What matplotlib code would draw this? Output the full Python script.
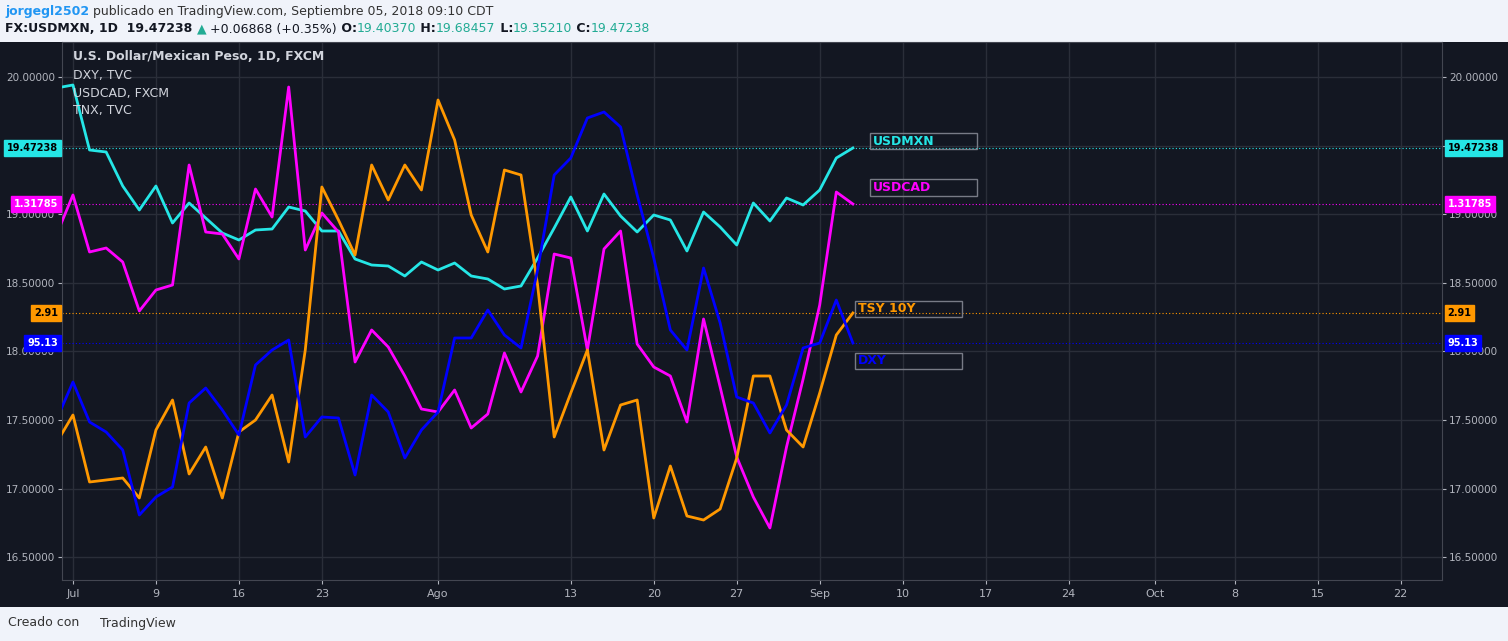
import matplotlib
matplotlib.use("Agg")
import matplotlib.pyplot as plt
from matplotlib.patches import Rectangle

W, H = 1508, 641
# trading-day index: 0 = Jul 2, 2018 ; -1 = Jun 29
idx = list(range(-1, 48))
tick_pos = [0, 5, 10, 15, 22, 30, 35, 40, 45, 50, 55, 60, 65.2, 70, 75, 80]
tick_lab = ["Jul", "9", "16", "23", "Ago", "13", "20", "27", "Sep", "10", "17", "24", "Oct", "8", "15", "22"]

def px2v(ys):
    return [round(20 - (y - 77) / 137.2, 4) for y in ys]

# values expressed on the USDMXN price scale
usdmxn = px2v([88, 85, 150, 152, 186, 210, 186, 223, 203, 218, 233, 240, 230, 229, 207, 211, 231, 231, 259, 265, 266, 276, 262, 270, 263, 276, 279, 289, 286, 258, 228, 197, 231, 194, 216, 232, 215, 220, 251, 212, 227, 245, 203, 221, 198, 205, 190, 158, 148])
usdcad = px2v([235, 195, 252, 248, 262, 311, 290, 285, 165, 232, 234, 259, 189, 217, 87, 250, 213, 232, 362, 330, 347, 376, 409, 412, 390, 428, 414, 353, 392, 356, 254, 258, 350, 249, 231, 344, 367, 376, 422, 319, 387, 457, 497, 528, 447, 379, 305, 192, 204])
tsy10y = px2v([443, 415, 482, 480, 478, 498, 430, 400, 474, 447, 498, 432, 420, 395, 462, 350, 187, 220, 255, 165, 200, 165, 190, 100, 140, 215, 252, 170, 175, 285, 437, 393, 350, 450, 405, 400, 518, 466, 516, 520, 509, 458, 376, 376, 430, 447, 393, 335, 313])
dxy = px2v([420, 382, 422, 432, 450, 515, 497, 487, 403, 388, 410, 435, 365, 350, 340, 437, 417, 418, 475, 395, 412, 458, 430, 412, 338, 338, 310, 335, 348, 270, 175, 158, 118, 112, 127, 195, 258, 330, 350, 268, 323, 397, 403, 433, 405, 348, 343, 300, 343])

yticks = [16.5, 17.0, 17.5, 18.0, 18.5, 19.0, 19.5, 20.0]
BG = "#131722"; GRID = "#2a2e39"; TXT = "#b2b5be"
series = [("USDMXN", usdmxn, "#25e6e6", "19.47238"), ("USDCAD", usdcad, "#ff00ff", "1.31785"),
          ("TSY 10Y", tsy10y, "#ff9800", "2.91"), ("DXY", dxy, "#0000ff", "95.13")]

fig = plt.figure(figsize=(W / 100, H / 100), dpi=100, facecolor=BG)
ax = fig.add_axes([62 / W, 1 - 580 / H, (1442 - 62) / W, (580 - 42) / H])
ax.set_facecolor(BG)
ax.set_xlim(-0.66, 82.5)
ax.set_ylim(20 - 503 / 137.2, 20 + 35 / 137.2)
ax.set_xticks(tick_pos)
ax.set_xticklabels(tick_lab, color=TXT, fontsize=8)
ax.set_yticks(yticks)
ax.set_yticklabels([f"{v:.5f}" for v in yticks], color=TXT, fontsize=7.5)
ax.tick_params(axis="y", which="both", left=True, right=True, labelleft=True, labelright=True,
               length=3, pad=2, color=TXT)
ax.tick_params(axis="x", length=3, color=TXT)
ax.grid(True, color=GRID, lw=1)
for s in ax.spines.values():
    s.set_color("#434651")

for name, vals, col, lab in series:
    ax.plot(idx, vals, color=col, lw=2, zorder=3)
    last = vals[-1]
    ax.axhline(last, color=col, lw=0.8, ls=(0, (1, 2)), zorder=2)
    for xx, ha in [(-0.003, "right"), (1.004, "left")]:
        ax.text(xx, last, lab, transform=ax.get_yaxis_transform(), ha=ha, va="center", fontsize=7,
                fontweight="bold", color="black" if name in ("USDMXN", "TSY 10Y") else "white",
                bbox=dict(boxstyle="square,pad=0.3", fc=col, ec=col), clip_on=False, zorder=5)

boxes = [("USDMXN", 48.2, usdmxn[-1] + 0.05), ("USDCAD", 48.2, usdcad[-1] + 0.12),
         ("TSY 10Y", 47.3, tsy10y[-1] + 0.03), ("DXY", 47.3, dxy[-1] - 0.13)]
for (name, xx, yy), (_, _, col, _) in zip(boxes, series):
    ax.text(xx, yy, name, color=col, fontsize=9, fontweight="bold", va="center", ha="left", zorder=6)
    ax.add_patch(Rectangle((xx - 0.15, yy - 0.06), 6.45, 0.12, fill=False, ec="#787b86", lw=1, zorder=6))

ax.text(0.008, 0.985, "U.S. Dollar/Mexican Peso, 1D, FXCM", transform=ax.transAxes, color="#d1d4dc",
        fontsize=9, fontweight="bold", va="top")
for i, s in enumerate(["DXY, TVC", "USDCAD, FXCM", "TNX, TVC"]):
    ax.text(0.008, 0.95 - i * 0.033, s, transform=ax.transAxes, color="#d1d4dc", fontsize=9, va="top")

# header and footer
fig.patches.append(Rectangle((0, 1 - 42 / H), 1, 42 / H, transform=fig.transFigure, fc="#f0f3fa", ec="none", zorder=-1))
fig.patches.append(Rectangle((0, 0), 1, 34 / H, transform=fig.transFigure, fc="#f0f3fa", ec="none", zorder=-1))
r = fig.canvas.get_renderer()
t0 = fig.text(5 / W, 1 - 11 / H, "jorgegl2502", color="#2196f3", fontsize=9, fontweight="bold", va="center")
fig.text((5 + t0.get_window_extent(r).width + 4) / W, 1 - 11 / H,
         "publicado en TradingView.com, Septiembre 05, 2018 09:10 CDT", color="#333", fontsize=9, va="center")
parts = [("FX:USDMXN, 1D  19.47238 ", "#131722", True), ("▲", "#22ab94", False), (" +0.06868 (+0.35%)", "#131722", False),
         (" O:", "#131722", True), ("19.40370", "#22ab94", False), (" H:", "#131722", True), ("19.68457", "#22ab94", False),
         (" L:", "#131722", True), ("19.35210", "#22ab94", False), (" C:", "#131722", True), ("19.47238", "#22ab94", False)]
xpos = 5
for s, c, b in parts:
    t = fig.text(xpos / W, 1 - 29 / H, s, color=c, fontsize=9, fontweight="bold" if b else "normal", va="center")
    xpos += t.get_window_extent(r).width
fig.text(8 / W, 1 - 623 / H, "Creado con", color="#333", fontsize=9, va="center")
fig.text(100 / W, 1 - 623 / H, "TradingView", color="#333", fontsize=9, va="center")

fig.savefig("out.png", dpi=100, facecolor=BG)
